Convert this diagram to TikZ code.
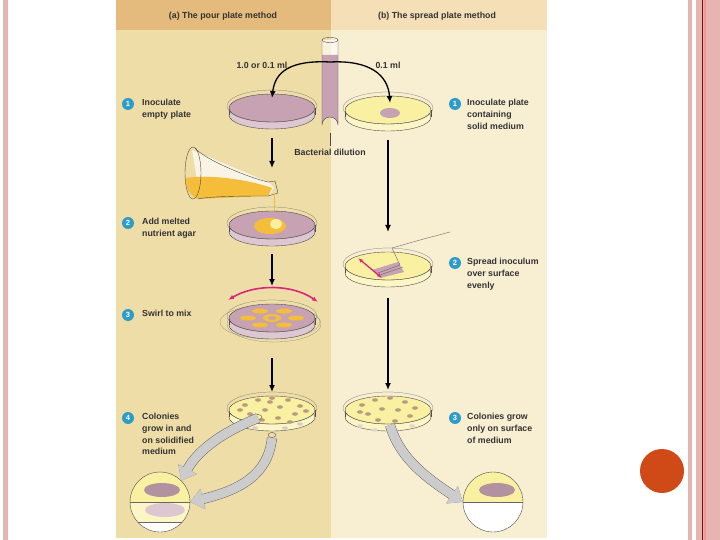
\documentclass[tikz,border=0pt]{standalone}
\usepackage{fontspec}
\setmainfont{Liberation Sans}
\usetikzlibrary{arrows.meta,calc}
\definecolor{panA}{HTML}{EFDDA8}
\definecolor{panB}{HTML}{F8EED2}
\definecolor{hdA}{HTML}{E4BB7C}
\definecolor{hdB}{HTML}{F5DFB6}
\definecolor{purp}{HTML}{C7A2B2}
\definecolor{yel}{HTML}{FAF0A2}
\definecolor{agar}{HTML}{F4BE3A}
\definecolor{teal}{HTML}{2E9CC8}
\definecolor{mag}{HTML}{D8287C}
\definecolor{spot}{HTML}{B89A80}
\definecolor{frame}{HTML}{E6B5B2}
\definecolor{dot}{HTML}{D04A18}
\newcommand\dish[3]{%
  \fill[#3!60!white] (#1,#2+7) ellipse (43 and 14);
  \fill[#3!60!white] (#1-43,#2) rectangle (#1+43,#2+7);
  \draw[black!70,thin] (#1,#2+7) ellipse (43 and 14);
  \draw[black!70,thin] (#1-43,#2)--(#1-43,#2+7) (#1+43,#2)--(#1+43,#2+7);
  \fill[#3] (#1,#2) ellipse (43 and 14);
  \draw[black!70,thin] (#1,#2) ellipse (43 and 14);
  \draw[black!60,very thin] (#1,#2-2) ellipse (45 and 16);
}
\begin{document}
\begin{tikzpicture}[x=1pt,y=-1pt,
  txt/.style={font=\fontsize{8.8}{11.8}\selectfont\bfseries, text=black!80, align=left, anchor=north west, inner sep=0},
  badge/.style={circle, fill=teal, text=white, inner sep=0, minimum size=12pt, font=\fontsize{7.5}{8}\selectfont\bfseries},
  arr/.style={-{Latex[length=7pt,width=6pt]}, line width=1.3pt},
  big/.style={-{Triangle[width=20pt,length=13pt]}, line width=9pt, draw=gray!40, preaction={draw=black!60, line width=10pt}}]
\useasboundingbox (0,0) rectangle (720,540);
\fill[white] (0,0) rectangle (720,540);
% frame
\fill[frame] (3,0) rectangle (8,540);
\fill[frame] (688,0) rectangle (692,540);
\fill[frame] (696,0) rectangle (720,540);
\draw[red!60!black, line width=0.6pt] (702,0)--(702,540);
\fill[frame!85!red] (704,0) rectangle (706,540);
\fill[dot] (662,471) circle (22);
% panels
\fill[panA] (116,0) rectangle (331,538);
\fill[panB] (331,0) rectangle (547,538);
\fill[hdA] (116,0) rectangle (331,30);
\fill[hdB] (331,0) rectangle (547,30);
\node[txt, anchor=center] (ha) at (223,16) {(a) The pour plate method};
\node[txt, anchor=center] (hb) at (437,16) {(b) The spread plate method};
% plates step 1
\dish{272}{108}{purp}
\dish{388}{110}{yel}
\fill[purp] (390,113) ellipse (10 and 5);
% tube
\fill[white,opacity=.6] (322,40) -- (322,125) arc[start angle=180,end angle=360,radius=8] -- (338,40) -- cycle;
\fill[purp] (322,55) -- (322,125) arc[start angle=180,end angle=360,radius=8] -- (338,55) -- cycle;
\draw[black!70] (322,40) -- (322,125) arc[start angle=180,end angle=360,radius=8] -- (338,40);
\draw[black!70] (330,40) ellipse (8 and 2.5);
\draw[black!70] (330,133)--(330,146);
\node[txt, anchor=center] (bd) at (330,152) {Bacterial dilution};
\node[txt, anchor=center] (l1) at (262,65) {1.0 or 0.1 ml};
\node[txt, anchor=center] (l2) at (388,65) {0.1 ml};
\coordinate (tt) at (330,62);
\coordinate (p1) at (272,98);
\coordinate (p2) at (390,103);
\draw[arr] (tt) .. controls (290,60) and (275,72) .. (p1);
\draw[arr] (tt) .. controls (370,60) and (388,75) .. (p2);
% step labels
\node[badge] (b1) at (128,104) {1};
\node[txt] (t1) at (142,99) {Inoculate\\empty plate};
\node[badge] (b2) at (128,223) {2};
\node[txt] (t2) at (142,218) {Add melted\\nutrient agar};
\node[badge] (b3) at (128,315) {3};
\node[txt] (t3) at (142,310) {Swirl to mix};
\node[badge] (b4) at (128,418) {4};
\node[txt] (t4) at (142,413) {Colonies\\grow in and\\on solidified\\medium};
\node[badge] (c1) at (455,104) {1};
\node[txt] (u1) at (467,99) {Inoculate plate\\containing\\solid medium};
\node[badge] (c2) at (455,263) {2};
\node[txt] (u2) at (467,258) {Spread inoculum\\over surface\\evenly};
\node[badge] (c3) at (455,418) {3};
\node[txt] (u3) at (467,413) {Colonies grow\\only on surface\\of medium};
% left column arrows
\coordinate (a1s) at (272,138); \coordinate (a1e) at (272,168);
\draw[arr] (a1s)--(a1e);
% flask
\fill[white,opacity=.7] (192,150) -- (268,182) -- (274,188) -- (268,196) -- (200,198) -- cycle;
\fill[agar] (186,178) .. controls (210,174) and (250,180) .. (272,188) -- (268,196) -- (198,199) .. controls (188,195) and (185,186) .. cycle;
\draw[black!70] (195,148) .. controls (205,160) and (250,178) .. (268,182) -- (275,181) -- (278,193) -- (268,196) .. controls (250,196) and (210,196) .. (198,199);
\draw[black!70] (193,173) ellipse (8 and 26);
\draw[agar, line width=1pt] (274,194)--(274,218);
% plate 2
\dish{272}{225}{purp}
\fill[agar] (270,226) ellipse (16 and 8);
\fill[yel] (276,224) ellipse (6 and 5);
\coordinate (a2s) at (272,254); \coordinate (a2e) at (272,286);
\draw[arr] (a2s)--(a2e);
% plate 3 swirl
\draw[black!50,very thin] (270,322) ellipse (50 and 17);
\draw[black!50,very thin] (274,324) ellipse (47 and 18);
\dish{272}{318}{purp}
\foreach \a in {0,60,...,300}{\fill[agar] ($(272,318)+(\a:24 and 8)$) ellipse (8 and 2.5);}
\fill[agar] (272,318) ellipse (9 and 4);
\fill[purp] (272,318) ellipse (4 and 2);
\draw[mag, line width=1.6pt, {Latex[length=6pt]}-{Latex[length=6pt]}] (228,300) .. controls (255,284) and (292,284) .. (318,302);
\coordinate (a3s) at (272,358); \coordinate (a3e) at (272,392);
\draw[arr] (a3s)--(a3e);
% plate 4
\dish{272}{410}{yel}
\foreach \p in {(245,405),(258,400),(272,398),(288,400),(300,406),(250,414),(265,410),(280,407),(295,414),(262,420),(278,418),(290,422),(240,410),(306,411),(270,402)}{\fill[spot] \p ellipse (3 and 1.8);}
\foreach \p in {(240,425),(255,428),(285,428),(300,424)}{\fill[spot!50!white] \p ellipse (3 and 1.8);}
\draw[black!70] (258,417) ellipse (4 and 2.5);
\draw[black!70] (272,435) ellipse (4 and 2.5);
% right column
\coordinate (r1s) at (388,140); \coordinate (r1e) at (388,232);
\draw[arr] (r1s)--(r1e);
\dish{388}{266}{yel}
\fill[purp] (372,270) -- (398,262) -- (404,272) -- (380,278) -- cycle;
\draw[black!60] (378,273) -- (400,265) -- (392,248) -- (420,240) -- (450,232);
\draw[black!60] (380,275) -- (403,267);
\draw[mag, line width=1.3pt, {Latex[length=5pt]}-{Latex[length=5pt]}] (358,258)--(382,278);
\coordinate (r2s) at (388,298); \coordinate (r2e) at (388,390);
\draw[arr] (r2s)--(r2e);
\dish{388}{410}{yel}
\foreach \p in {(362,405),(375,400),(390,398),(405,402),(415,408),(368,414),(382,409),(398,410),(410,416),(378,420),(395,421),(360,412)}{\fill[spot] \p ellipse (3 and 1.8);}
\foreach \p in {(360,426),(375,430),(395,431),(412,426)}{\fill[spot!40!white] \p ellipse (3 and 1.8);}
% magnified
\coordinate (m1) at (258,418); \coordinate (m2) at (272,438); \coordinate (m3) at (390,425);
\node[circle, minimum size=60pt, inner sep=0] (z1) at (160,502) {};
\node[circle, minimum size=60pt, inner sep=0] (z2) at (493,502) {};
\begin{scope}
\clip (160,502) circle (30);
\fill[white] (130,472) rectangle (190,532);
\fill[yel] (130,472) rectangle (190,502);
\fill[yel!60!white] (130,502) rectangle (190,522);
\draw[black!60] (130,502)--(190,502) (130,522)--(190,522);
\fill[purp!90!black] (162,490) ellipse (18 and 7);
\fill[purp!60!white] (165,510) ellipse (20 and 7);
\end{scope}
\draw[black!70] (160,502) circle (30);
\begin{scope}
\clip (493,502) circle (30);
\fill[white] (463,472) rectangle (523,532);
\fill[yel] (463,472) rectangle (523,502);
\draw[black!60] (463,502)--(523,502);
\fill[purp!90!black] (497,490) ellipse (18 and 7);
\end{scope}
\draw[black!70] (493,502) circle (30);
\draw[big] (m1) .. controls (215,435) and (195,455) .. (z1.north east);
\draw[big] (m2) .. controls (268,475) and (240,490) .. (z1.east);
\draw[big] (m3) .. controls (400,460) and (430,480) .. (z2.west);
\end{tikzpicture}
\end{document}
